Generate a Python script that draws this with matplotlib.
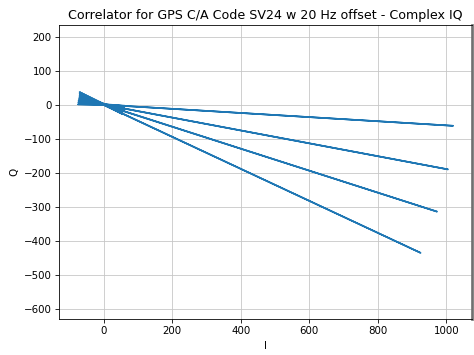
import matplotlib
matplotlib.use("Agg")
from matplotlib import pyplot as plt

# correlator output (I, Q), one code period after another
# off-peak values sit close to the origin, one big peak per period
I = [-1, -75, 62, -74, 61, -1, 1020, 1,
     -73, 60, -72, 59, -1, 1005, 1,
     -71, 58, -70, 57, -1, 973, 1,
     -70, 55, -70, 54, -1, 925, 0]
Q = [0, 1, -3, 7, -5, 0, -62, 0,
     12, -9, 17, -12, 0, -190, 0,
     22, -17, 27, -20, 0, -314, 0,
     32, -24, 37, -27, 0, -435, 0]

x_ticks = [0, 200, 400, 600, 800, 1000]
y_ticks = [-600, -500, -400, -300, -200, -100, 0, 100, 200]

fig = plt.figure(figsize=(474 / 74, 355 / 74), dpi=74)
ax = fig.add_axes([0.1245, 0.1006, 0.8713, 0.8281])
ax.plot(I, Q, lw=1.6)

ax.set_xlim(-130, 1075)
ax.set_ylim(-630, 233)
ax.set_xticks(x_ticks)
ax.set_yticks(y_ticks)
ax.grid(True, color='#c6c6c6')

# right edge of the original looks heavier (cropped)
ax.spines['right'].set_linewidth(2.6)
ax.spines['right'].set_color('#707070')

ax.set_title("Correlator for GPS C/A Code SV24 w 20 Hz offset - Complex IQ", fontsize=12.3)
ax.set_xlabel("I")
ax.set_ylabel("Q")

fig.savefig("out.png", dpi=74)
